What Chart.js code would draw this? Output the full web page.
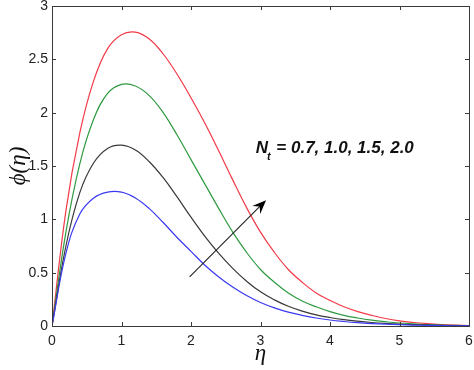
<!DOCTYPE html>
<html>
<head>
  <meta charset="UTF-8">
  <title>phi(eta) profiles</title>
  <style>
    body { margin: 0; padding: 0; background: #fff; }
    #wrap { width: 474px; height: 370px; position: relative; }
  </style>
</head>
<body>
  <div id="wrap"><canvas id="chart"></canvas></div>

  <script src="https://cdn.jsdelivr.net/npm/chart.js"></script>
  <script>
    // eta grid (step 0.2) and phi values
    const eta = [0, 0.2, 0.4, 0.6, 0.8, 1.0, 1.2, 1.4, 1.6, 1.8, 2.0, 2.2, 2.4, 2.6, 2.8, 3.0,
                 3.2, 3.4, 3.6, 3.8, 4.0, 4.2, 4.4, 4.6, 4.8, 5.0, 5.2, 5.4, 5.6, 5.8, 6.0];

    const phiNt07 = [0, 0.68, 1.05, 1.20, 1.255, 1.255, 1.20, 1.10, 0.97, 0.83, 0.70, 0.57, 0.46, 0.365, 0.285, 0.22,
                     0.17, 0.13, 0.10, 0.075, 0.056, 0.042, 0.031, 0.023, 0.017, 0.012, 0.008, 0.006, 0.004, 0.002, 0.001];
    const phiNt10 = [0, 0.75, 1.25, 1.53, 1.665, 1.695, 1.65, 1.54, 1.39, 1.21, 1.02, 0.84, 0.68, 0.54, 0.42, 0.32,
                     0.245, 0.185, 0.14, 0.105, 0.08, 0.06, 0.045, 0.033, 0.024, 0.017, 0.012, 0.008, 0.005, 0.003, 0.001];
    const phiNt15 = [0, 0.88, 1.52, 1.94, 2.18, 2.265, 2.25, 2.16, 2.00, 1.79, 1.56, 1.33, 1.10, 0.88, 0.69, 0.53,
                     0.41, 0.31, 0.235, 0.18, 0.135, 0.10, 0.075, 0.055, 0.04, 0.028, 0.02, 0.013, 0.008, 0.005, 0.002];
    const phiNt20 = [0, 1.08, 1.81, 2.30, 2.60, 2.73, 2.755, 2.69, 2.55, 2.36, 2.14, 1.90, 1.64, 1.37, 1.11, 0.88,
                     0.69, 0.53, 0.41, 0.31, 0.24, 0.18, 0.135, 0.10, 0.07, 0.048, 0.033, 0.022, 0.014, 0.008, 0.004];

    const xTicks = [0, 1, 2, 3, 4, 5, 6];
    const yTicks = [0, 0.5, 1, 1.5, 2, 2.5, 3];

    const labelText = 'N';
    const labelSub = 't';
    const labelRest = ' = 0.7, 1.0, 1.5, 2.0';
    const labelAt = { x: 2.93, y: 1.67 };
    const arrowFrom = { x: 1.98, y: 0.46 };
    const arrowTo = { x: 3.08, y: 1.18 };

    function pts(ys) {
      return eta.map((x, i) => ({ x: x, y: ys[i] }));
    }

    function series(ys, color) {
      return {
        data: pts(ys),
        borderColor: color,
        backgroundColor: color,
        borderWidth: 1.2,
        pointRadius: 0,
        fill: false,
        tension: 0.4
      };
    }

    // frame with inward ticks + annotation
    const framePlugin = {
      id: 'frame',
      afterDraw(chart) {
        const ctx = chart.ctx;
        const a = chart.chartArea;
        const xs = chart.scales.x;
        const ys = chart.scales.y;
        ctx.save();
        ctx.strokeStyle = '#3a3a3a';
        ctx.lineWidth = 1;
        ctx.strokeRect(a.left + 0.5, a.top + 0.5, a.right - a.left, a.bottom - a.top);
        ctx.beginPath();
        xTicks.forEach(v => {
          const px = Math.round(xs.getPixelForValue(v)) + 0.5;
          ctx.moveTo(px, a.bottom); ctx.lineTo(px, a.bottom - 4);
          ctx.moveTo(px, a.top); ctx.lineTo(px, a.top + 4);
        });
        yTicks.forEach(v => {
          const py = Math.round(ys.getPixelForValue(v)) + 0.5;
          ctx.moveTo(a.left, py); ctx.lineTo(a.left + 4, py);
          ctx.moveTo(a.right, py); ctx.lineTo(a.right - 4, py);
        });
        ctx.stroke();

        // arrow
        const x0 = xs.getPixelForValue(arrowFrom.x), y0 = ys.getPixelForValue(arrowFrom.y);
        const x1 = xs.getPixelForValue(arrowTo.x), y1 = ys.getPixelForValue(arrowTo.y);
        const ang = Math.atan2(y1 - y0, x1 - x0);
        ctx.strokeStyle = '#222';
        ctx.fillStyle = '#000';
        ctx.lineWidth = 1.1;
        ctx.beginPath();
        ctx.moveTo(x0, y0);
        ctx.lineTo(x1 - 6 * Math.cos(ang), y1 - 6 * Math.sin(ang));
        ctx.stroke();
        ctx.beginPath();
        ctx.moveTo(x1, y1);
        ctx.lineTo(x1 - 15 * Math.cos(ang - 0.38), y1 - 15 * Math.sin(ang - 0.38));
        ctx.lineTo(x1 - 9 * Math.cos(ang), y1 - 9 * Math.sin(ang));
        ctx.lineTo(x1 - 15 * Math.cos(ang + 0.38), y1 - 15 * Math.sin(ang + 0.38));
        ctx.closePath();
        ctx.fill();

        // N_t label
        let tx = xs.getPixelForValue(labelAt.x);
        const ty = ys.getPixelForValue(labelAt.y);
        ctx.fillStyle = '#111';
        ctx.textBaseline = 'middle';
        ctx.textAlign = 'left';
        ctx.font = 'italic bold 17px "Liberation Sans", Arial, sans-serif';
        ctx.fillText(labelText, tx, ty);
        tx += ctx.measureText(labelText).width;
        ctx.font = 'italic bold 11px "Liberation Sans", Arial, sans-serif';
        ctx.fillText(labelSub, tx - 1, ty + 9);
        tx += ctx.measureText(labelSub).width;
        ctx.font = 'italic bold 17px "Liberation Sans", Arial, sans-serif';
        ctx.fillText(labelRest, tx, ty);
        ctx.restore();
      }
    };

    new Chart(document.getElementById('chart'), {
      type: 'line',
      data: {
        datasets: [
          series(phiNt07, '#3a3af2'),
          series(phiNt10, '#383838'),
          series(phiNt15, '#2e9a40'),
          series(phiNt20, '#f23a48')
        ]
      },
      options: {
        responsive: true,
        maintainAspectRatio: false,
        animation: false,
        layout: { padding: { left: 0, right: 5, top: 6, bottom: 0 } },
        plugins: {
          legend: { display: false },
          tooltip: { enabled: false }
        },
        scales: {
          x: {
            type: 'linear',
            min: 0,
            max: 6,
            grid: { display: false, drawTicks: false },
            border: { display: false },
            afterBuildTicks: s => { s.ticks = xTicks.map(v => ({ value: v })); },
            afterFit: s => { s.height = 44; s.paddingLeft = 0; s.paddingRight = 0; },
            ticks: {
              padding: 7,
              color: '#222',
              callback: v => String(v),
              font: { family: '"Liberation Sans", Arial, sans-serif', size: 14 }
            },
            title: {
              display: true,
              text: 'η',
              color: '#111',
              padding: 2,
              font: { family: '"Liberation Serif", "DejaVu Serif", serif', style: 'italic', size: 23 }
            }
          },
          y: {
            type: 'linear',
            min: 0,
            max: 3,
            grid: { display: false, drawTicks: false },
            border: { display: false },
            afterBuildTicks: s => { s.ticks = yTicks.map(v => ({ value: v })); },
            afterFit: s => { s.width = 52; s.paddingTop = 0; s.paddingBottom = 0; },
            ticks: {
              padding: 4,
              color: '#222',
              callback: v => String(v),
              font: { family: '"Liberation Sans", Arial, sans-serif', size: 14 }
            },
            title: {
              display: true,
              text: 'ϕ(η)',
              color: '#111',
              padding: 5,
              font: { family: '"Liberation Serif", "DejaVu Serif", serif', style: 'italic', size: 23 }
            }
          }
        }
      },
      plugins: [framePlugin]
    });
  </script>
</body>
</html>
